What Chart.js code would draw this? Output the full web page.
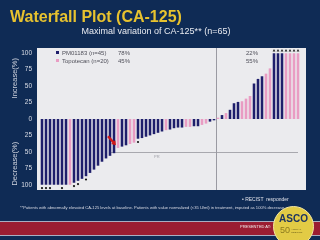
<!DOCTYPE html>
<html>
<head>
<meta charset="utf-8">
<script src="https://cdn.jsdelivr.net/npm/chart.js@4.4.1/dist/chart.umd.min.js"></script>
<style>
  body { margin:0; width:320px; height:240px; background:#0f2b55; overflow:hidden; position:relative;
         font-family:'Liberation Sans', Arial, sans-serif; }
  #c { position:absolute; left:0; top:0; }
  .t { position:absolute; white-space:nowrap; }
  #title { left:10px; top:9px; font-weight:bold; font-size:16px; line-height:16px; color:#e7c22f; }
  #sub { left:0; width:312px; top:27px; text-align:center; font-size:9px; line-height:9px; color:#e8eaf0; }
  .lg { font-size:6px; line-height:6px; color:#50505a; }
  .sq { position:absolute; width:3px; height:3px; }
  #band { position:absolute; left:0; top:221px; width:320px; height:13px; background:#9b1d32;
          border-top:1px solid #a9aec2; border-bottom:1px solid #a9aec2; }
  #logo { position:absolute; left:273px; top:206px; width:39px; height:39px; border-radius:50%;
          background:#e2cb45; border:1px solid #f3e6a2; }
</style>
</head>
<body>
<canvas id="c" width="320" height="240"></canvas>

<div id="title" class="t">Waterfall Plot (CA-125)</div>
<div id="sub" class="t">Maximal variation of CA-125** (n=65)</div>

<div class="sq" style="left:56px;top:51px;background:#1e1e6b"></div>
<div class="t lg" style="left:62px;top:50px">PM01183 (n=45)</div>
<div class="t lg" style="left:118px;top:50px">78%</div>
<div class="sq" style="left:56px;top:59px;background:#e99cc3"></div>
<div class="t lg" style="left:62px;top:58px">Topotecan (n=20)</div>
<div class="t lg" style="left:118px;top:58px">45%</div>
<div class="t lg" style="left:246px;top:50px">22%</div>
<div class="t lg" style="left:246px;top:58px">55%</div>

<div class="t" style="left:242px;top:197px;font-size:5px;line-height:5px;color:#e0e2ea">&bull; RECIST &nbsp;responder</div>
<div class="t" style="left:20px;top:206px;font-size:4.1px;line-height:4px;color:#d8dae4">**Patients with abnormally elevated CA-125 levels at baseline. Patients with value normalized (&lt;35 U/ml) in treatment, imputed as 100% decrease</div>

<div id="band"></div>
<div class="t" style="left:240px;top:225px;font-size:4px;line-height:4px;color:#f0f0f0">PRESENTED AT:</div>
<div id="logo"></div>
<div class="t" style="left:273px;top:214px;width:41px;text-align:center;font-weight:bold;font-size:10px;line-height:10px;color:#1d3461">ASCO</div>
<div class="t" style="left:280px;top:226px;font-size:9px;line-height:9px;color:#8c7b1e">50</div>
<div class="t" style="left:291px;top:228px;font-size:2.5px;line-height:3px;color:#6a5d18">ANNUAL<br>MEETING</div>

<script>
// one bar per patient, sorted by change in CA-125
const patients = Array.from({ length: 65 }, (_, i) => 'Pt' + (i + 1));

// maximal variation of CA-125 (%)
const variation = [
  -100, -100, -100, -100, -100, -100, -100, -100, -97, -94,
  -91, -87, -82, -77, -71, -65, -60, -56, -52, -44,
  -42, -40, -38, -36, -30, -29, -27, -25, -23, -21,
  -19, -17, -16, -14, -13, -13, -12, -12, -11, -11,
  -9, -7, -4, -2, 2, 6, 9, 14, 24, 26,
  27, 31, 35, 54, 61, 65, 69, 77, 100, 100,
  100, 100, 100, 100, 100
];

// treatment arm per bar: P = PM01183, T = Topotecan
const arm = [
  'P','P','P','P','P','P','P','T','P','P',
  'P','P','P','P','P','P','P','P','P','T',
  'P','P','T','T','P','P','P','P','P','P',
  'P','T','P','P','P','P','T','T','P','P',
  'T','T','P','P','T','P','T','P','P','P',
  'T','T','T','P','P','P','T','T','P','P',
  'P','T','T','T','T'
];

// bars with a RECIST response
const responders = [0, 1, 2, 5, 8, 9, 11, 24];

const yTicks = [-100, -75, -50, -25, 0, 25, 50, 75, 100];

const NAVY = '#1e1e6b';
const PINK = '#e99cc3';

const slide = {
  id: 'slide',
  beforeDraw(chart) {
    const { ctx, chartArea: a } = chart;
    ctx.save();
    ctx.fillStyle = '#ebebee';
    ctx.fillRect(a.left - 3, a.top, a.right - a.left + 9, a.bottom - a.top);
    ctx.restore();
  },
  beforeDatasetsDraw(chart) {
    const { ctx, chartArea: a, scales: { x, y } } = chart;
    ctx.save();
    ctx.strokeStyle = '#a8a8ae';
    ctx.lineWidth = 1;
    // -50% line
    const y50 = Math.round(y.getPixelForValue(-50)) + 0.5;
    ctx.beginPath();
    ctx.moveTo(x.getPixelForValue(17), y50);
    ctx.lineTo(a.right - 2, y50);
    ctx.stroke();
    // split between decrease and increase
    const split = variation.findIndex(v => v > 0);
    const xs = Math.round((x.getPixelForValue(split - 1) + x.getPixelForValue(split)) / 2) + 0.5;
    ctx.strokeStyle = '#9a9aa2';
    ctx.beginPath();
    ctx.moveTo(xs, a.top);
    ctx.lineTo(xs, a.bottom);
    ctx.stroke();
    ctx.fillStyle = '#a0a0a8';
    ctx.font = '4px "Liberation Sans", Arial';
    ctx.fillText('PR', x.getPixelForValue(28), y50 + 5);
    ctx.restore();
  },
  afterDraw(chart) {
    const { ctx, scales: { x, y } } = chart;
    ctx.save();
    // axis titles
    ctx.fillStyle = '#cfd3de';
    ctx.font = '7.5px "Liberation Sans", Arial';
    ctx.textAlign = 'center';
    ctx.textBaseline = 'middle';
    [['Increase(%)', 62], ['Decrease(%)', -68]].forEach(([txt, v]) => {
      ctx.save();
      ctx.translate(15, y.getPixelForValue(v));
      ctx.rotate(-Math.PI / 2);
      ctx.fillText(txt, 0, 0);
      ctx.restore();
    });
    // red arrow pointing at a bar
    const tx = x.getPixelForValue(18) + 2, ty = y.getPixelForValue(-40);
    const sx = tx - 8, sy = ty - 9;
    const ang = Math.atan2(ty - sy, tx - sx);
    ctx.strokeStyle = '#d01818';
    ctx.fillStyle = '#d01818';
    ctx.lineWidth = 2.4;
    ctx.beginPath();
    ctx.moveTo(sx, sy);
    ctx.lineTo(tx - 3 * Math.cos(ang), ty - 3 * Math.sin(ang));
    ctx.stroke();
    ctx.beginPath();
    ctx.moveTo(tx, ty);
    ctx.lineTo(tx - 5 * Math.cos(ang - 0.6), ty - 5 * Math.sin(ang - 0.6));
    ctx.lineTo(tx - 5 * Math.cos(ang + 0.6), ty - 5 * Math.sin(ang + 0.6));
    ctx.closePath();
    ctx.fill();
    ctx.restore();
  }
};

new Chart(document.getElementById('c'), {
  data: {
    labels: patients,
    datasets: [
      {
        type: 'bar',
        data: variation,
        backgroundColor: arm.map(a => a === 'P' ? NAVY : PINK),
        barPercentage: 0.64,
        categoryPercentage: 1,
        order: 3
      },
      {
        type: 'line',
        data: variation.map((v, i) => responders.includes(i) ? v - 5 : null),
        showLine: false,
        pointRadius: 1.1,
        pointBackgroundColor: '#111',
        pointBorderWidth: 0,
        order: 1
      },
      {
        type: 'line',
        data: variation.map(v => v >= 100 ? 104 : null),
        showLine: false,
        pointStyle: 'triangle',
        pointRadius: 1.6,
        pointBackgroundColor: '#222',
        pointBorderWidth: 0,
        order: 2
      }
    ]
  },
  options: {
    responsive: false,
    animation: false,
    layout: { padding: { left: 0, right: 20, top: 48, bottom: 50 } },
    plugins: { legend: { display: false }, tooltip: { enabled: false } },
    scales: {
      x: { display: false },
      y: {
        min: -108,
        max: 108,
        grid: { display: false, drawTicks: false },
        border: { display: false },
        afterFit: s => { s.width = 40; },
        afterBuildTicks: s => { s.ticks = yTicks.map(v => ({ value: v })); },
        ticks: {
          padding: 8,
          color: '#dcdfe8',
          font: { family: '"Liberation Sans", Arial', size: 6.5 },
          callback: v => Math.abs(v)
        }
      }
    }
  },
  plugins: [slide]
});
</script>
</body>
</html>
